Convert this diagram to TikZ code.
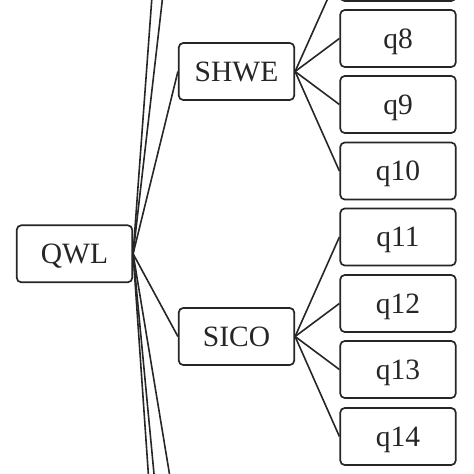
\documentclass[tikz,border=0pt]{standalone}
\usepackage{fontspec}
\setmainfont{Liberation Serif}
\begin{document}
\begin{tikzpicture}[x=1pt,y=-1pt,
  box/.style={draw=black!85, line width=1.7pt, rounded corners=4.5pt, fill=white,
    minimum width=115.5pt, minimum height=57pt, inner sep=0pt,
    text height=19pt, text depth=0pt,
    font=\fontsize{29.5}{34}\selectfont, text=black!85},
  link/.style={draw=black!85, line width=1.6pt}]
\useasboundingbox (0,0) rectangle (474,474);
\clip (0,0) rectangle (474,474);
\coordinate (u1) at (152.1,-5);
\coordinate (u2) at (162.9,-5);
\coordinate (d1) at (148.7,479);
\coordinate (d2) at (154.5,479);
\coordinate (d3) at (170.3,479);
\node[box] (QWL) at (74.5,253.8) {QWL};
\node[box] (SHWE) at (236.5,71.5) {SHWE};
\node[box] (SICO) at (236.5,336.5) {SICO};
\node[box] (q7) at (398,-27.5) {};
\node[box] (q8) at (398,38.5) {q8};
\node[box] (q9) at (398,104.5) {q9};
\node[box] (q10) at (398,171) {q10};
\node[box] (q11) at (398,237) {q11};
\node[box] (q12) at (398,303.5) {q12};
\node[box] (q13) at (398,369.5) {q13};
\node[box] (q14) at (398,436.5) {q14};
\draw[link] (QWL.east) -- (SHWE.west);
\draw[link] (QWL.east) -- (SICO.west);
\draw[link] (QWL.east) -- (u1);
\draw[link] (QWL.east) -- (u2);
\draw[link] (QWL.east) -- (d1);
\draw[link] (QWL.east) -- (d2);
\draw[link] (QWL.east) -- (d3);
\foreach \q in {q7,q8,q9,q10} \draw[link] (SHWE.east) -- (\q.west);
\foreach \q in {q11,q12,q13,q14} \draw[link] (SICO.east) -- (\q.west);
\end{tikzpicture}
\end{document}
